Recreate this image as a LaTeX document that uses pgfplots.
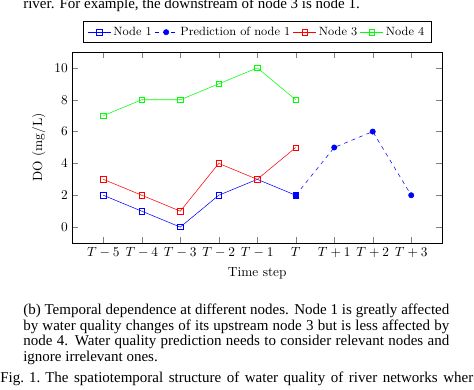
\documentclass[border=0pt]{standalone}
\usepackage{pgfplots}
\pgfplotsset{compat=1.18}
\usepackage{fontspec}
\newfontfamily\tnr{Liberation Serif}
\begin{document}
\begin{tikzpicture}
\useasboundingbox (0pt,0pt) rectangle (355.5pt,-291.75pt);
\clip (0pt,0pt) rectangle (355.5pt,-291.75pt);
% surrounding text
\node[anchor=base west,inner sep=0pt,font=\tnr\fontsize{11.25}{12}\selectfont] at (17.25pt,-6pt) {river. For example, the downstream of node 3 is node 1.};
\node[anchor=base west,inner sep=0pt,font=\tnr\fontsize{11.25}{12}\selectfont] at (17.25pt,-235.7pt) {\makebox[319.5pt][s]{(b) Temporal dependence at different nodes. Node 1 is greatly affected}};
\node[anchor=base west,inner sep=0pt,font=\tnr\fontsize{11.25}{12}\selectfont] at (17.25pt,-247.5pt) {\makebox[319.5pt][s]{by water quality changes of its upstream node 3 but is less affected by}};
\node[anchor=base west,inner sep=0pt,font=\tnr\fontsize{11.25}{12}\selectfont] at (17.25pt,-259.3pt) {\makebox[319.5pt][s]{node 4. Water quality prediction needs to consider relevant nodes and}};
\node[anchor=base west,inner sep=0pt,font=\tnr\fontsize{11.25}{12}\selectfont] at (17.25pt,-270.9pt) {ignore irrelevant ones.};
\node[anchor=base west,inner sep=0pt,font=\tnr\fontsize{11.25}{12}\selectfont] at (0pt,-287pt) {Fig. 1.};
\node[anchor=base west,inner sep=0pt,font=\tnr\fontsize{11.25}{12}\selectfont] at (33.75pt,-287pt) {\makebox[326pt][s]{The spatiotemporal structure of water quality of river networks where}};
\begin{axis}[
  at={(54.4pt,-182.25pt)}, anchor=south west,
  scale only axis, width=277.1pt, height=143.25pt,
  xmin=-0.8, xmax=8.8, ymin=-1, ymax=11,
  xtick={0,1,2,3,4,5,6,7,8},
  xticklabels={$T-5$,$T-4$,$T-3$,$T-2$,$T-1$,$T$,$T+1$,$T+2$,$T+3$},
  ytick={0,2,4,6,8,10},
  xlabel={Time step}, ylabel={DO (mg/L)},
  font=\fontsize{10}{12}\selectfont,
  tick label style={font=\fontsize{10}{12}\selectfont},
  label style={font=\fontsize{10}{12}\selectfont},
  legend style={at={(0.5,1)},anchor=south,yshift=6.75pt,legend columns=-1,font=\fontsize{9}{10.8}\selectfont},
]
\addplot[blue, mark=square] coordinates {(0,2) (1,1) (2,0) (3,2) (4,3) (5,2)};
\addlegendentry{Node 1}
\addplot[blue, dashed, mark=*, mark options={solid}] coordinates {(5,2) (6,5) (7,6) (8,2)};
\addlegendentry{Prediction of node 1}
\addplot[red, mark=square] coordinates {(0,3) (1,2) (2,1) (3,4) (4,3) (5,5)};
\addlegendentry{Node 3}
\addplot[green, mark=square] coordinates {(0,7) (1,8) (2,8) (3,9) (4,10) (5,8)};
\addlegendentry{Node 4}
\addplot[blue, mark=square*, forget plot] coordinates {(5,2)};
\end{axis}
\end{tikzpicture}
\end{document}
